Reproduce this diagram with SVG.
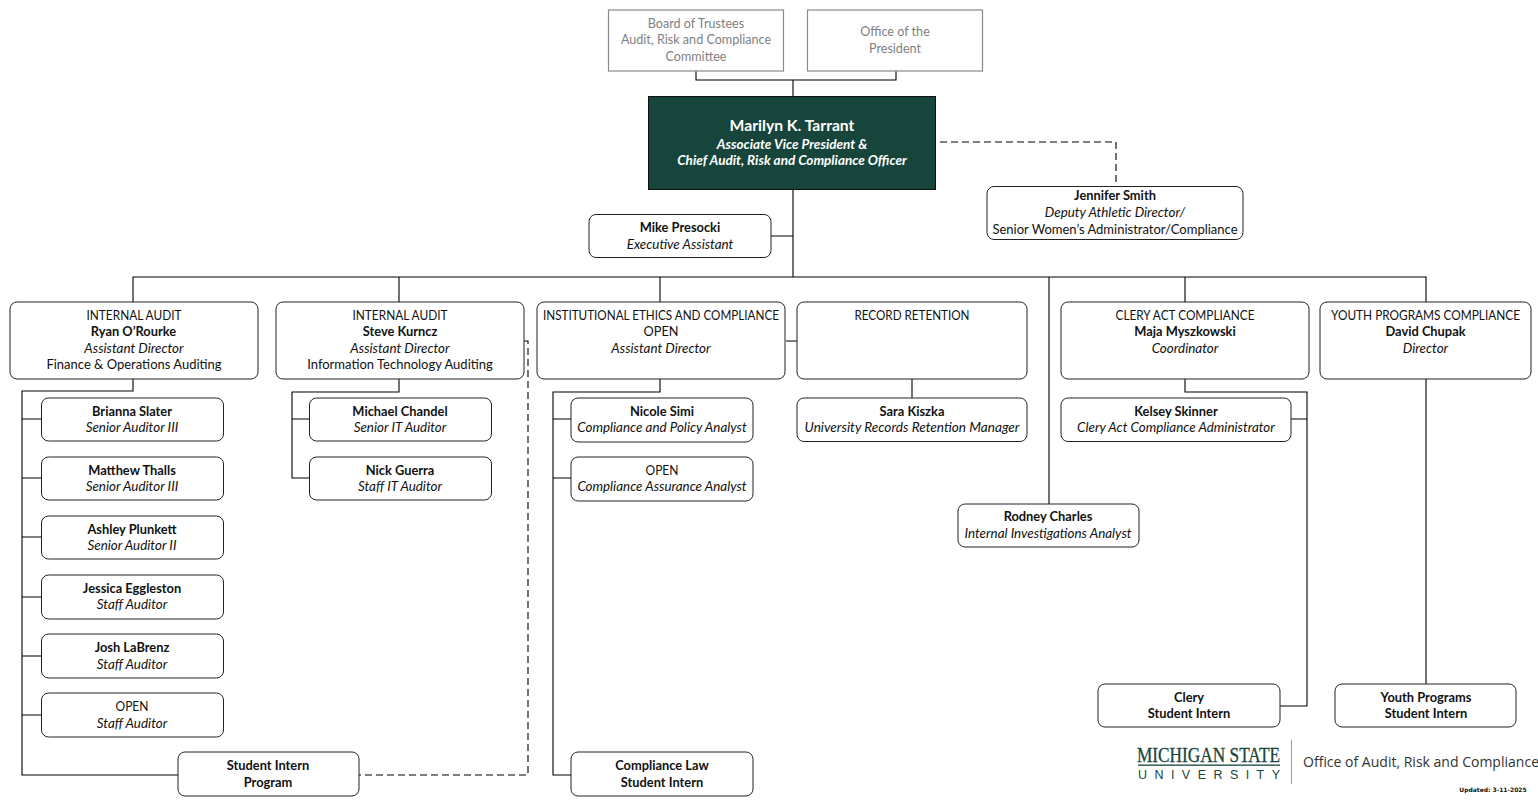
<svg xmlns="http://www.w3.org/2000/svg" width="1538" height="801" viewBox="0 0 1538 801">
<style>
text{font-family:"Lato","Liberation Sans",sans-serif;font-size:13px;fill:#111;text-anchor:middle}
.b{font-weight:700;font-size:12.85px}.i{font-style:italic;font-size:13.4px}
.box{fill:#fff;stroke:#222;stroke-width:1}
.top{fill:#fff;stroke:#8a8a8a;stroke-width:1.2}
.g{fill:#7f7f7f;font-size:12.6px}
.w{fill:#fff}
.h{font-size:12.8px}
#connectors path{fill:none;stroke:#000;stroke-width:1.1}
#connectors .d{stroke-dasharray:7 4}
</style>
<rect width="1538" height="801" fill="#fff"/>
<g id="connectors">
<path d="M696 71V80H896V71M793 80V96M793 189V277M771 236H793M133 302V277H1426V302M399 277V302M660 277V302M1049 277V504M1185 277V302"/>
<path class="d" d="M940 142H1116V186"/>
<path d="M133 379V391H22V775H178M22 419H41M22 478H41M22 537H41M22 597H41M22 656H41M22 715H41"/>
<path d="M399 379V392H292V478H309M292 419H309"/>
<path class="d" d="M524 341H528V775H359"/>
<path d="M660 379V392H553V775H571M553 419H571M553 478H571M786 341H797M912 379V398"/>
<path d="M1185 379V392H1307V706H1280M1291 419H1307M1426 379V684"/>
</g>
<g id="n-board"><rect class="top" x="608.5" y="10" width="175" height="61"/><text class="g" x="696" y="28">Board of Trustees</text><text class="g" x="696" y="44">Audit, Risk and Compliance</text><text class="g" x="696" y="61">Committee</text></g>
<g id="n-president"><rect class="top" x="807.5" y="10" width="175" height="61"/><text class="g" x="895" y="36">Office of the</text><text class="g" x="895" y="53">President</text></g>
<g id="n-tarrant"><rect x="648.5" y="96.5" width="287" height="93" fill="#18453b" stroke="#111"/><text class="b w" x="792" y="131" style="font-size:15.7px">Marilyn K. Tarrant</text><text class="b i w" x="792" y="149" style="font-size:13.5px">Associate Vice President &amp;</text><text class="b i w" x="792" y="165" style="font-size:13.5px">Chief Audit, Risk and Compliance Officer</text></g>
<g id="n-smith"><rect class="box" x="987" y="186.5" width="256" height="53" rx="7"/><text class="b" x="1115" y="200">Jennifer Smith</text><text class="i" x="1115" y="217">Deputy Athletic Director/</text><text x="1115" y="234">Senior Women’s Administrator/Compliance</text></g>
<g id="n-presocki"><rect class="box" x="589" y="214.5" width="182" height="43" rx="7"/><text class="b" x="680" y="232">Mike Presocki</text><text class="i" x="680" y="249">Executive Assistant</text></g>
<g id="n-ia1"><rect class="box" x="10" y="302" width="248" height="77" rx="7"/><text class="h" x="134" y="320" textLength="95" lengthAdjust="spacingAndGlyphs">INTERNAL AUDIT</text><text class="b" x="133.500" y="336">Ryan O’Rourke</text><text class="i" x="134" y="353">Assistant Director</text><text x="134" y="369">Finance &amp; Operations Auditing</text></g>
<g id="n-ia2"><rect class="box" x="276" y="302" width="248" height="77" rx="7"/><text class="h" x="400" y="320" textLength="95" lengthAdjust="spacingAndGlyphs">INTERNAL AUDIT</text><text class="b" x="400" y="336">Steve Kurncz</text><text class="i" x="400" y="353">Assistant Director</text><text x="400" y="369">Information Technology Auditing</text></g>
<g id="n-iec"><rect class="box" x="537" y="302" width="248" height="77" rx="7"/><text class="h" x="661" y="320" textLength="236" lengthAdjust="spacingAndGlyphs">INSTITUTIONAL ETHICS AND COMPLIANCE</text><text class="h" x="661" y="336" textLength="35" lengthAdjust="spacingAndGlyphs">OPEN</text><text class="i" x="661" y="353">Assistant Director</text></g>
<g id="n-rr"><rect class="box" x="797" y="302" width="230" height="77" rx="7"/><text class="h" x="912" y="320" textLength="115" lengthAdjust="spacingAndGlyphs">RECORD RETENTION</text></g>
<g id="n-clery"><rect class="box" x="1061" y="302" width="248" height="77" rx="7"/><text class="h" x="1185" y="320" textLength="139" lengthAdjust="spacingAndGlyphs">CLERY ACT COMPLIANCE</text><text class="b" x="1185" y="336">Maja Myszkowski</text><text class="i" x="1185" y="353">Coordinator</text></g>
<g id="n-youth"><rect class="box" x="1320" y="302" width="211" height="77" rx="7"/><text class="h" x="1425.500" y="320" textLength="189" lengthAdjust="spacingAndGlyphs">YOUTH PROGRAMS COMPLIANCE</text><text class="b" x="1425.500" y="336">David Chupak</text><text class="i" x="1425.500" y="353">Director</text></g>
<g id="n-slater"><rect class="box" x="41.5" y="398" width="182" height="43" rx="7"/><text class="b" x="132" y="416">Brianna Slater</text><text class="i" x="132" y="432">Senior Auditor III</text></g>
<g id="n-thalls"><rect class="box" x="41.5" y="457" width="182" height="43" rx="7"/><text class="b" x="132" y="475">Matthew Thalls</text><text class="i" x="132" y="491">Senior Auditor III</text></g>
<g id="n-plunkett"><rect class="box" x="41.5" y="516" width="182" height="43" rx="7"/><text class="b" x="132" y="534">Ashley Plunkett</text><text class="i" x="132" y="550">Senior Auditor II</text></g>
<g id="n-eggleston"><rect class="box" x="41.5" y="575" width="182" height="44" rx="7"/><text class="b" x="132" y="593">Jessica Eggleston</text><text class="i" x="132" y="609">Staff Auditor</text></g>
<g id="n-labrenz"><rect class="box" x="41.5" y="634" width="182" height="44" rx="7"/><text class="b" x="132" y="652">Josh LaBrenz</text><text class="i" x="132" y="669">Staff Auditor</text></g>
<g id="n-open1"><rect class="box" x="41.5" y="693" width="182" height="44" rx="7"/><text class="h" x="132" y="711" textLength="33" lengthAdjust="spacingAndGlyphs">OPEN</text><text class="i" x="132" y="728">Staff Auditor</text></g>
<g id="n-intern"><rect class="box" x="178" y="752" width="181" height="44" rx="7"/><text class="b" x="268" y="770">Student Intern</text><text class="b" x="268" y="787">Program</text></g>
<g id="n-chandel"><rect class="box" x="309.5" y="398" width="182" height="43" rx="7"/><text class="b" x="400" y="416">Michael Chandel</text><text class="i" x="400" y="432">Senior IT Auditor</text></g>
<g id="n-guerra"><rect class="box" x="309.5" y="457" width="182" height="43" rx="7"/><text class="b" x="400" y="475">Nick Guerra</text><text class="i" x="400" y="491">Staff IT Auditor</text></g>
<g id="n-simi"><rect class="box" x="571" y="398" width="182" height="44" rx="7"/><text class="b" x="662" y="416">Nicole Simi</text><text class="i" x="662" y="432">Compliance and Policy Analyst</text></g>
<g id="n-open2"><rect class="box" x="571" y="457" width="182" height="44" rx="7"/><text class="h" x="662" y="475" textLength="33" lengthAdjust="spacingAndGlyphs">OPEN</text><text class="i" x="662" y="491">Compliance Assurance Analyst</text></g>
<g id="n-law"><rect class="box" x="571" y="752" width="182" height="44" rx="7"/><text class="b" x="662" y="770">Compliance Law</text><text class="b" x="662" y="787">Student Intern</text></g>
<g id="n-kiszka"><rect class="box" x="797" y="398" width="230" height="43.500" rx="7"/><text class="b" x="912" y="416">Sara Kiszka</text><text class="i" x="912" y="432" textLength="215" lengthAdjust="spacingAndGlyphs">University Records Retention Manager</text></g>
<g id="n-charles"><rect class="box" x="958" y="504" width="181" height="43" rx="7"/><text class="b" x="1048" y="521">Rodney Charles</text><text class="i" x="1048" y="538">Internal Investigations Analyst</text></g>
<g id="n-skinner"><rect class="box" x="1061" y="398" width="230" height="43.500" rx="7"/><text class="b" x="1176" y="416">Kelsey Skinner</text><text class="i" x="1176" y="432">Clery Act Compliance Administrator</text></g>
<g id="n-cintern"><rect class="box" x="1098" y="684" width="182" height="43" rx="7"/><text class="b" x="1189" y="702">Clery</text><text class="b" x="1189" y="718">Student Intern</text></g>
<g id="n-yintern"><rect class="box" x="1335" y="684" width="181" height="43" rx="7"/><text class="b" x="1426" y="702">Youth Programs</text><text class="b" x="1426" y="718">Student Intern</text></g>
<g id="logo">
<text x="1208.500" y="762" style="font-family:'Liberation Serif',serif;font-size:21.500px;fill:#18453b;stroke:#18453b;stroke-width:.3" textLength="143" lengthAdjust="spacingAndGlyphs">MICHIGAN STATE</text>
<rect x="1138" y="764.500" width="142" height="1.300" fill="#18453b"/>
<text x="1209" y="779" style="font-family:'Liberation Sans',sans-serif;font-size:12.500px;fill:#18453b" textLength="142">UNIVERSITY</text>
<rect x="1291" y="740" width="1" height="44" fill="#999"/>
<text x="1303" y="767" style="font-family:'Open Sans',sans-serif;font-size:14px;fill:#333;text-anchor:start" textLength="236">Office of Audit, Risk and Compliance</text>
<text x="1493" y="791.500" style="font-family:'DejaVu Sans',sans-serif;font-size:6px;font-weight:700;fill:#111">Updated: 3-11-2025</text>
</g>
</svg>
